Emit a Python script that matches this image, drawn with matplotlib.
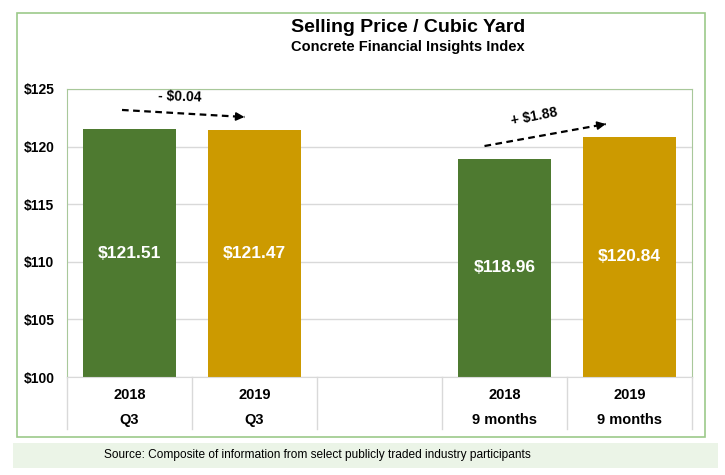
import matplotlib.pyplot as plt
from matplotlib.patches import Rectangle

plt.rcParams['font.family'] = ['Liberation Sans', 'DejaVu Sans']

# data
years = ["2018", "2019", "", "2018", "2019"]
periods = ["Q3", "Q3", "", "9 months", "9 months"]
prices = [121.51, 121.47, None, 118.96, 120.84]
barColors = ["#4E7A30", "#CC9A00", None, "#4E7A30", "#CC9A00"]
yTicks = [100, 105, 110, 115, 120, 125]

# change annotations: (x0, y0, x1, y1), label, label pos, rotation
changes = [
    ((-0.06, 123.18, 0.92, 122.57), "- $0.04", (0.40, 124.35), -2),
    ((2.84, 120.05, 3.81, 121.96), "+ $1.88", (3.24, 122.6), 11),
]

W, H = 725, 475
fig = plt.figure(figsize=(W / 100, H / 100), dpi=100)

def fx(px):
    return px / W

def fy(py):
    return 1 - py / H

# outer border and source band
fig.patches.append(Rectangle((fx(17), fy(437)), fx(705 - 17), (437 - 13) / H,
                             transform=fig.transFigure, fill=False,
                             edgecolor="#9CC98A", linewidth=1.2))
fig.patches.append(Rectangle((fx(13), fy(468)), fx(718 - 13), (468 - 443) / H,
                             transform=fig.transFigure, facecolor="#EBF4E7",
                             edgecolor="none"))

ax = fig.add_axes([fx(67), fy(377), fx(692 - 67), (377 - 89) / H])

for i, v in enumerate(prices):
    if v is None:
        continue
    ax.bar(i, v - 100, bottom=100, width=0.75, color=barColors[i], zorder=2)
    ax.text(i, (v + 100) / 2, f"${v:.2f}", ha="center", va="center",
            color="white", fontsize=12.5, fontweight="bold", zorder=3)

ax.set_xlim(-0.5, 4.5)
ax.set_ylim(100, 125)
ax.set_yticks(yTicks)
ax.set_yticklabels([f"${t}" for t in yTicks], fontsize=10, fontweight="bold")
ax.tick_params(axis="y", length=0, pad=9)
ax.set_xticks([])
ax.grid(axis="y", color="#D9D9D9", linewidth=1, zorder=0)
for side in ["top", "left", "right"]:
    ax.spines[side].set_color("#A8C89A")
ax.spines["bottom"].set_color("#D9D9D9")

# category table below the axis
tr = ax.get_xaxis_transform()
for k in range(6):
    ax.plot([k - 0.5, k - 0.5], [0, -0.18], transform=tr, color="#D9D9D9",
            linewidth=1, clip_on=False)
for i in range(5):
    ax.text(i, -0.062, years[i], transform=tr, ha="center", va="center",
            fontsize=10.5, fontweight="bold")
    ax.text(i, -0.15, periods[i], transform=tr, ha="center", va="center",
            fontsize=10.5, fontweight="bold")

# change arrows
for (x0, y0, x1, y1), label, (lx, ly), rot in changes:
    ax.plot([x0, x1], [y0, y1], linestyle=(0, (3, 2)), color="black",
            linewidth=1.6, zorder=4)
    ax.annotate("", xy=(x1, y1), xytext=(x1 - (x1 - x0) * 0.05, y1 - (y1 - y0) * 0.05),
                arrowprops=dict(arrowstyle="-|>,head_length=0.5,head_width=0.25",
                                color="black", linewidth=1.2, shrinkA=0, shrinkB=0),
                zorder=4)
    ax.text(lx, ly, label, ha="center", va="center", rotation=rot,
            fontsize=10, fontweight="bold", zorder=4)

fig.text(fx(408), fy(28), "Selling Price / Cubic Yard", ha="center", va="center",
         fontsize=14, fontweight="bold")
fig.text(fx(408), fy(47), "Concrete Financial Insights Index", ha="center",
         va="center", fontsize=10.5, fontweight="bold")
fig.text(fx(317), fy(455), "Source: Composite of information from select publicly traded industry participants",
         ha="center", va="center", fontsize=8.6)

fig.savefig("out.png", dpi=100)
